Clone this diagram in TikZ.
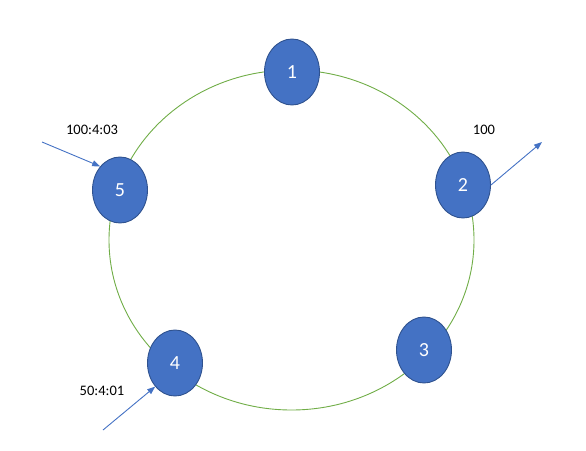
\documentclass[tikz,border=0pt]{standalone}
\usepackage{fontspec}
\setmainfont{Carlito}
\usepackage{xcolor}
\usepackage{tikz}
\usetikzlibrary{arrows.meta,positioning,shapes.geometric}
\definecolor{nodeblue}{RGB}{68,114,196}
\definecolor{nodeedge}{RGB}{47,82,143}
\definecolor{ringgreen}{RGB}{112,173,71}
\tikzset{
  peer/.style={ellipse, draw=nodeedge, fill=nodeblue, line width=0.9pt, minimum width=55pt, minimum height=66pt, inner sep=0pt, text=white, font=\fontsize{20}{24}\selectfont},
  ring/.style={draw=ringgreen, line width=0.9pt},
  msg/.style={-{Triangle[length=8pt,width=6pt]}, draw=nodeblue, line width=0.9pt},
  tag/.style={font=\fontsize{14.5}{17}\selectfont, inner sep=0pt}
}
\begin{document}
\begin{tikzpicture}[x=1pt, y=-1pt]
    \useasboundingbox (0,0) rectangle (586,450);
    \draw [ring] (291.5,240) ellipse [x radius=182.5pt, y radius=170pt];

    \node [peer] (n1) at (292,72) {1};
    \node [peer] (n2) at (463,185) {2};
    \node [peer] (n3) at (424,350) {3};
    \node [peer] (n4) at (175,363) {4};
    \node [peer] (n5) at (120,190) {5};

    \coordinate (in5) at (42,142);
    \coordinate (out2) at (542,142);
    \coordinate (in4) at (103,430);

    \draw [msg] (in5) -- (n5.130);
    \draw [msg] (n2.east) -- (out2);
    \draw [msg] (in4) -- (n4.230);

    \node [tag] (t5) at (92,130) {100:4:03};
    \node [tag] (t2) at (484,130) {100};
    \node [tag] (t4) at (102,391) {50:4:01};
\end{tikzpicture}
\end{document}
